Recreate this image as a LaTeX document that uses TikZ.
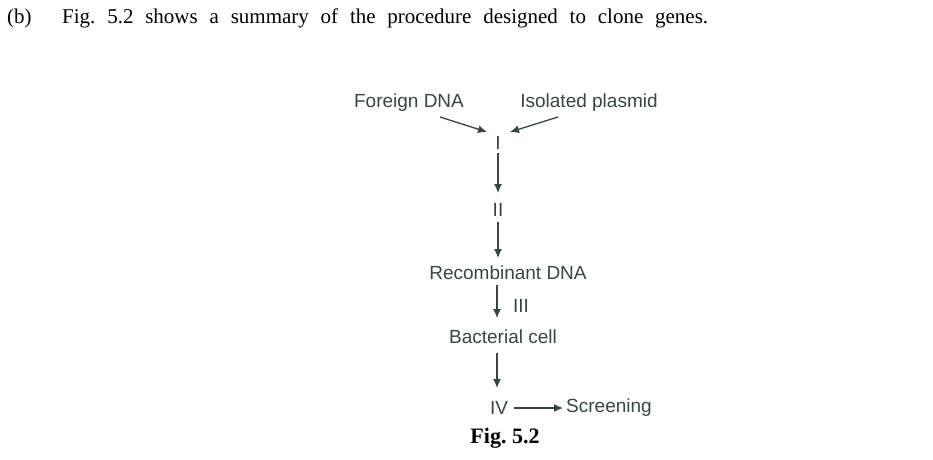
\documentclass[tikz,border=0pt]{standalone}
\usepackage{fontspec}
\setmainfont{Liberation Serif}
\setsansfont{Liberation Sans}
\usetikzlibrary{arrows.meta}
\definecolor{ink}{HTML}{3A4542}
\tikzset{lab/.style={font=\sffamily\fontsize{19}{22}\selectfont,text=ink,inner sep=1pt},
 arr/.style={draw=ink,line width=1.3pt,-{Latex[length=9pt,width=8pt]}},
 body/.style={font=\fontsize{21}{24}\selectfont,inner sep=0pt,anchor=base west}}
\frenchspacing
\begin{document}
\begin{tikzpicture}[x=1pt,y=-1pt]
\useasboundingbox (0,0) rectangle (933,459);
\node[body] (b) at (7,23) {(b)};
\node[body] (t) at (62,23) {\frenchspacing\hbox to 646pt{Fig. 5.2 shows a summary of the procedure designed to clone genes.}};
\node[lab] (f) at (409,103) {Foreign DNA};
\node[lab] (p) at (589,103) {Isolated plasmid};
\node[lab] (i1) at (498,143) {I};
\node[lab] (i2) at (498,210) {II};
\node[lab] (r) at (508,273) {Recombinant DNA};
\node[lab] (i3) at (521,306) {III};
\node[lab] (bc) at (503,337) {Bacterial cell};
\node[lab] (i4) at (499,408) {IV};
\node[lab] (s) at (609,408) {Screening};
\node[font=\bfseries\fontsize{22}{26}\selectfont,inner sep=1pt] (fig) at (505,438) {Fig. 5.2};
\coordinate (fa) at (440,117); \coordinate (fb) at (487,132);
\coordinate (pa) at (558,117); \coordinate (pb) at (510,132);
\draw[arr] (fa) -- (fb);
\draw[arr] (pa) -- (pb);
\draw[arr] (i1.south) ++(0,2) coordinate (c1) (c1) -- (498,193);
\draw[arr] (498,222) -- (498,258);
\draw[arr] (497,285) -- (497,318);
\draw[arr] (497,353) -- (497,388);
\draw[arr] (i4.east) ++(5,0) coordinate (c4) (c4) -- ([xshift=-2pt]s.west);
\end{tikzpicture}
\end{document}
